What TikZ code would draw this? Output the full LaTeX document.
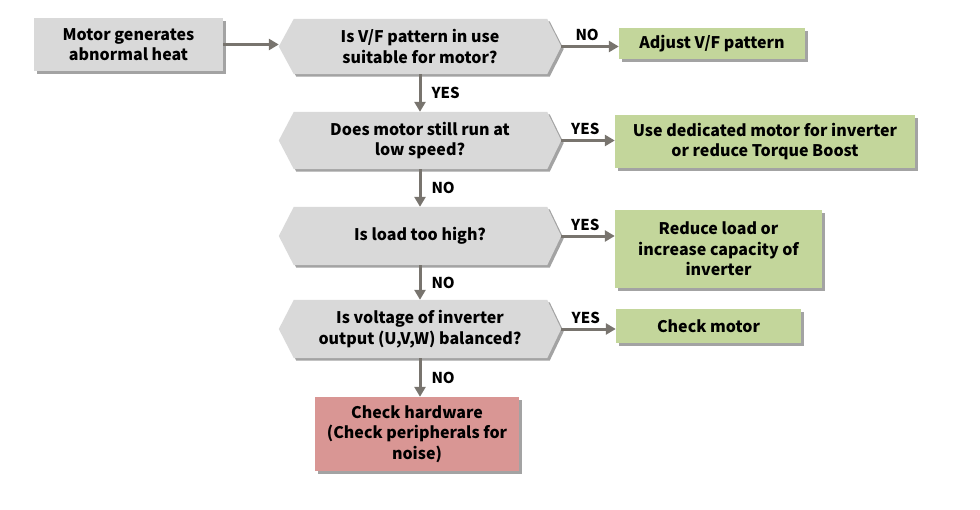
\documentclass[tikz,border=0pt]{standalone}
\usepackage{fontspec}
\setmainfont{Noto Sans CJK KR}
\usetikzlibrary{arrows.meta,shadows,backgrounds}
\definecolor{boxgray}{RGB}{217,217,217}
\definecolor{boxgreen}{RGB}{195,214,155}
\definecolor{boxred}{RGB}{217,150,148}
\definecolor{arrowgray}{RGB}{120,116,110}
\begin{document}
\begin{tikzpicture}[x=1pt,y=-1pt,
  every node/.style={font=\fontsize{16}{20.5}\selectfont\bfseries, align=center, inner sep=0pt},
  sh/.style={drop shadow={shadow xshift=2.5pt,shadow yshift=-2.5pt,fill=black!45,opacity=0.8}},
  rbox/.style={rectangle, sh, draw=none},
  graybox/.style={rbox, fill=boxgray},
  greenbox/.style={rbox, fill=boxgreen},
  redbox/.style={rbox, fill=boxred},
  decision/.style={rectangle, minimum width=282pt},
  hexagon/.style={fill=boxgray, sh},
  flow/.style={draw=arrowgray, line width=3pt, -{Triangle[length=10pt,width=11pt]}},
  lbl/.style={font=\fontsize{15}{17}\selectfont\bfseries}
]
\useasboundingbox (0,0) rectangle (980,509);

\node[graybox, minimum width=189pt, minimum height=53pt] (start) at (128.5,44.5) {Motor generates\\abnormal heat};
\node[decision, minimum height=55pt] (d1) at (420,46.5) {Is V/F pattern in use\\suitable for motor?};
\node[greenbox, minimum width=186pt, minimum height=31pt] (g1) at (712,43.5) {Adjust V/F pattern};
\node[decision, minimum height=57pt] (d2) at (420,140.5) {Does motor still run at\\low speed?};
\node[greenbox, minimum width=300pt, minimum height=53pt] (g2) at (765,141.5) {Use dedicated motor for inverter\\or reduce Torque Boost};
\node[decision, minimum height=58pt] (d3) at (420,236) {Is load too high?};
\node[greenbox, minimum width=207pt, minimum height=78pt] (g3) at (718.5,249) {Reduce load or\\increase capacity of\\inverter};
\node[decision, minimum height=58pt] (d4) at (420,329) {Is voltage of inverter\\output (U,V,W) balanced?};
\node[greenbox, minimum width=185pt, minimum height=34pt] (g4) at (708.5,326) {Check motor};
\node[redbox, minimum width=204pt, minimum height=74pt] (red) at (417,434) {Check hardware\\(Check peripherals for\\noise)};

\begin{scope}[on background layer]
\foreach \n in {d1,d2,d3,d4}
  \path[hexagon] (\n.west) -- ([xshift=15pt]\n.north west) -- ([xshift=-14pt]\n.north east) -- (\n.east) -- ([xshift=-14pt]\n.south east) -- ([xshift=15pt]\n.south west) -- cycle;
\end{scope}

\draw[flow] (start.east) -- (start.east -| d1.west);
\draw[flow] (d1.east) -- (d1.east -| g1.west) node[lbl, pos=0.45, above=4pt] {NO};
\draw[flow] (d1.south) -- (d2.north) node[lbl, midway, right=10pt] {YES};
\draw[flow] (d2.east) -- (d2.east -| g2.west) node[lbl, pos=0.45, above=4pt] {YES};
\draw[flow] (d2.south) -- (d3.north) node[lbl, midway, right=10pt] {NO};
\draw[flow] (d3.east) -- (d3.east -| g3.west) node[lbl, pos=0.45, above=4pt] {YES};
\draw[flow] (d3.south) -- (d4.north) node[lbl, midway, right=10pt] {NO};
\draw[flow] (d4.east) -- (d4.east -| g4.west) node[lbl, pos=0.45, above=4pt] {YES};
\draw[flow] (d4.south) -- (d4.south |- red.north) node[lbl, midway, right=10pt] {NO};
\end{tikzpicture}
\end{document}
